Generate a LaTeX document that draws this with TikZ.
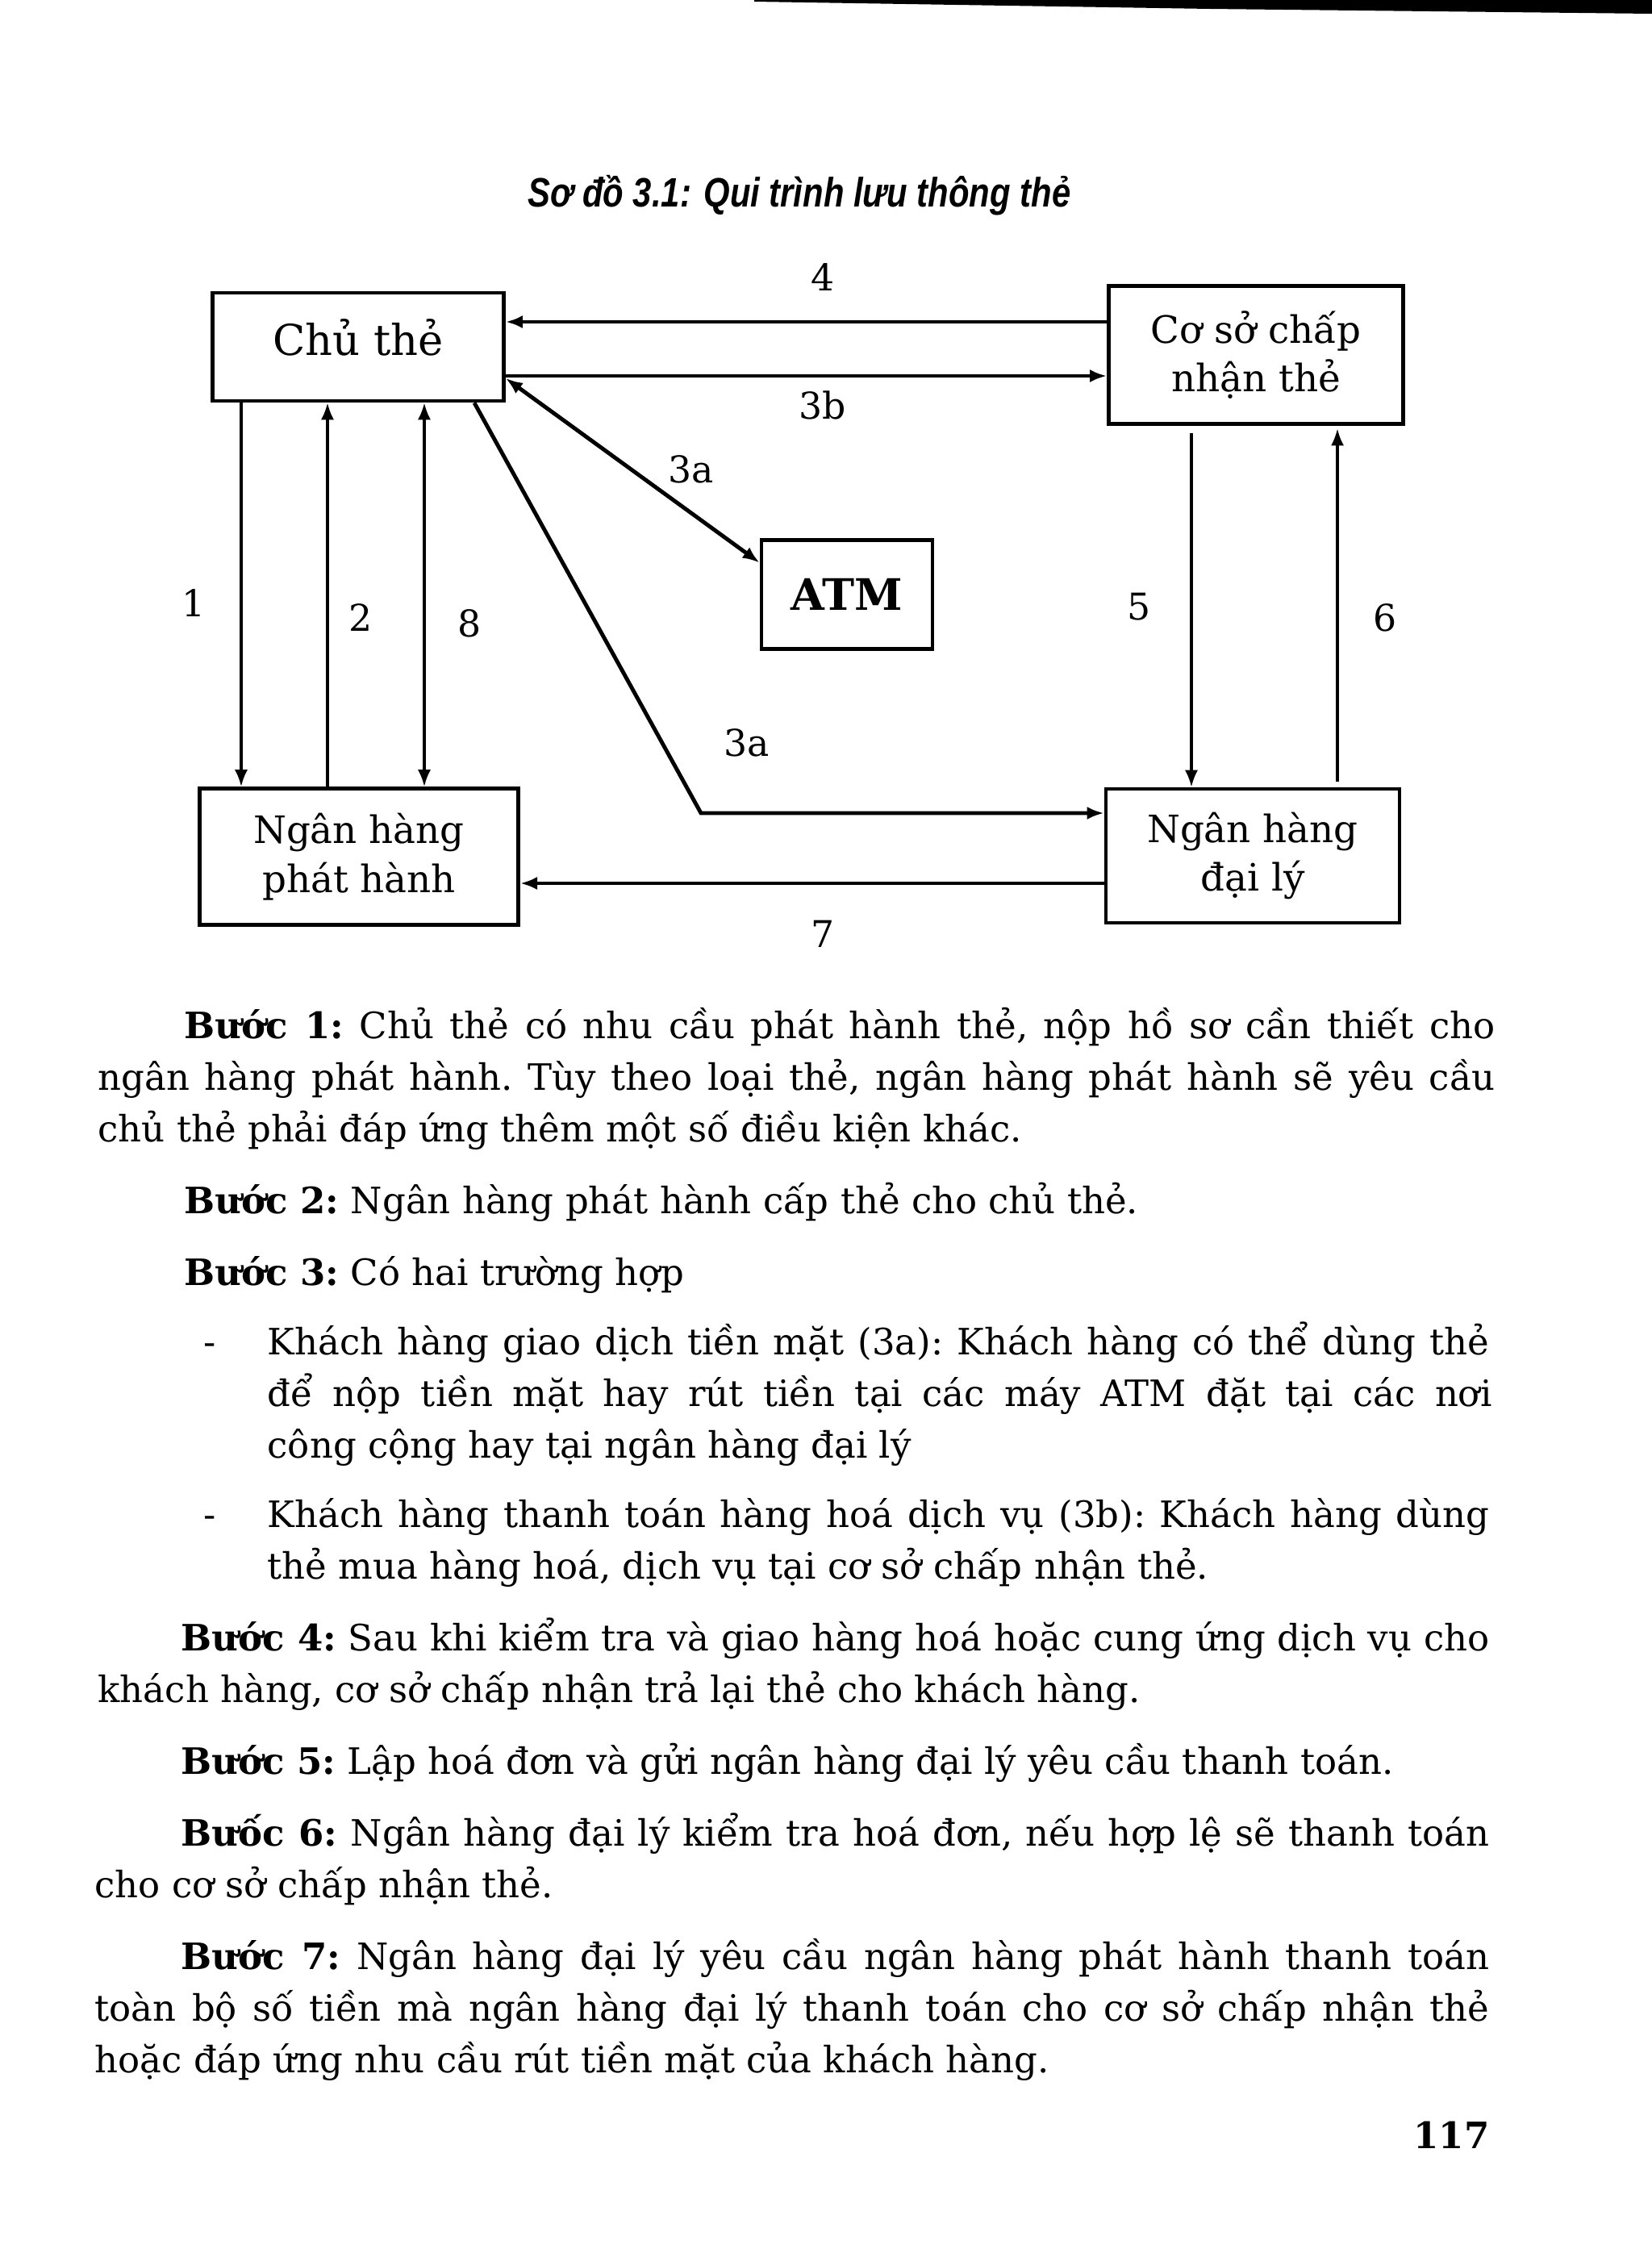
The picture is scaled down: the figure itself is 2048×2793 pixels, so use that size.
\documentclass[tikz,border=0pt]{standalone}
\usepackage{fontspec}
\setmainfont{DejaVu Serif}
\newfontfamily\titlefont[FakeStretch=0.82]{Liberation Sans}
\usetikzlibrary{arrows.meta}
\newcommand\bodysize{\fontsize{12.8}{18}\selectfont\frenchspacing}
\newcommand\boxsize{\fontsize{13.3}{17.3}\selectfont}
\tikzset{
  >={Latex[length=6pt,width=4.6pt]},
  box/.style={draw,line width=1.3pt,inner sep=0pt,align=center,font=\boxsize},
  flow/.style={line width=1.4pt},
  vflow/.style={line width=0.9pt},
  lbl/.style={inner sep=0pt,font=\fontsize{13}{15}\selectfont},
  txt/.style={anchor=base west,inner sep=0pt,font=\bodysize},
}
\begin{document}
\begin{tikzpicture}[x=0.01cm,y=-0.01cm]
    \useasboundingbox (0,0) rectangle (2048,2793);
    \fill[white] (0,0) rectangle (2048,2793);
    % dark edge of the scanned page
    \fill[black] (935,0) -- (2048,0) -- (2048,17) -- (1500,11) -- (935,2) -- cycle;

    \node[anchor=base,inner sep=0pt,font=\titlefont\bfseries\itshape\fontsize{14.5}{16}\selectfont]
      (title) at (991,256) {Sơ đồ 3.1: Qui trình lưu thông thẻ};

    % the five parties
    \node[box,minimum width=3.61cm,minimum height=1.34cm,text height=0.5cm,text depth=0.3cm,
          font=\fontsize{15}{18}\selectfont] (chu) at (444,430) {Chủ thẻ};
    \node[box,minimum width=3.65cm,minimum height=1.71cm] (coso) at (1557,440) {Cơ sở chấp\\nhận thẻ};
    \node[box,minimum width=2.12cm,minimum height=1.35cm,font=\fontsize{15.3}{18}\selectfont\bfseries] (atm) at (1050,737) {ATM};
    \node[box,minimum width=3.95cm,minimum height=1.69cm] (nhph) at (445,1062) {Ngân hàng\\phát hành};
    \node[box,minimum width=3.64cm,minimum height=1.66cm] (nhdl) at (1553,1061) {Ngân hàng\\đại lý};

    % rows and columns the connectors run along
    \coordinate (r4) at (0,399);
    \coordinate (r3b) at (0,466);
    \coordinate (r7) at (0,1095);
    \coordinate (c1) at (299,0);
    \coordinate (c2) at (406,0);
    \coordinate (c8) at (526,0);
    \coordinate (c3a) at (588,0);
    \coordinate (bend) at (869,1008);
    \coordinate (c5) at (1477,0);
    \coordinate (c6) at (1658,0);

    \draw[flow,->] (coso.west |- r4) -- (chu.east |- r4);
    \draw[flow,->] (chu.east |- r3b) -- (coso.west |- r3b);
    \draw[flow,<->] (chu.-12.5) -- (atm.160);
    \draw[flow,->] (chu.south -| c3a) -- (bend) -- (bend -| nhdl.west);
    \draw[flow,->] (nhdl.west |- r7) -- (nhph.east |- r7);
    \draw[vflow,->] (chu.south -| c1) -- (nhph.north -| c1);
    \draw[vflow,->] (nhph.north -| c2) -- (chu.south -| c2);
    \draw[vflow,<->] (chu.south -| c8) -- (nhph.north -| c8);
    \draw[vflow,->,shorten <=2.5pt] (coso.south -| c5) -- (nhdl.north -| c5);
    \draw[vflow,->,shorten <=2pt,shorten >=1pt] (nhdl.north -| c6) -- (coso.south -| c6);

    \foreach \n/\xa/\yb [count=\i] in {4/1020/344, 3b/1020/502, 3a/857/582, 3a/926/921,
                                       1/240/748, 2/447/766, 8/582/773, 5/1412/752,
                                       6/1717/766, 7/1020/1158}{
      \node[lbl] (lab\i) at (\xa,\yb) {\n};}

    % the steps below the chart; full lines are stretched to the measure
    \foreach \xa/\yb/\w/\t in {
        228/1287/16.24/{\textbf{Bước 1:} Chủ thẻ có nhu cầu phát hành thẻ, nộp hồ sơ cần thiết cho},
        121/1351/17.31/{ngân hàng phát hành. Tùy theo loại thẻ, ngân hàng phát hành sẽ yêu cầu},
        331/1679/15.14/{Khách hàng giao dịch tiền mặt (3a): Khách hàng có thể dùng thẻ},
        331/1743/15.17/{để nộp tiền mặt hay rút tiền tại các máy ATM đặt tại các nơi},
        331/1893/15.14/{Khách hàng thanh toán hàng hoá dịch vụ (3b): Khách hàng dùng},
        224/2046/16.21/{\textbf{Bước 4:} Sau khi kiểm tra và giao hàng hoá hoặc cung ứng dịch vụ cho},
        224/2288/16.21/{\textbf{Bưốc 6:} Ngân hàng đại lý kiểm tra hoá đơn, nếu hợp lệ sẽ thanh toán},
        224/2441/16.21/{\textbf{Bước 7:} Ngân hàng đại lý yêu cầu ngân hàng phát hành thanh toán},
        117/2505/17.28/{toàn bộ số tiền mà ngân hàng đại lý thanh toán cho cơ sở chấp nhận thẻ}}{
      \node[txt] (j\yb) at (\xa,\yb) {\makebox[\w cm][s]{\t}};}
    \foreach \xa/\yb/\t in {
        121/1415/{chủ thẻ phải đáp ứng thêm một số điều kiện khác.},
        228/1504/{\textbf{Bước 2:} Ngân hàng phát hành cấp thẻ cho chủ thẻ.},
        228/1593/{\textbf{Bước 3:} Có hai trường hợp},
        331/1807/{công cộng hay tại ngân hàng đại lý},
        331/1957/{thẻ mua hàng hoá, dịch vụ tại cơ sở chấp nhận thẻ.},
        121/2110/{khách hàng, cơ sở chấp nhận trả lại thẻ cho khách hàng.},
        224/2199/{\textbf{Bước 5:} Lập hoá đơn và gửi ngân hàng đại lý yêu cầu thanh toán.},
        117/2352/{cho cơ sở chấp nhận thẻ.},
        117/2569/{hoặc đáp ứng nhu cầu rút tiền mặt của khách hàng.}}{
      \node[txt] (n\yb) at (\xa,\yb) {\t};}
    \node[txt] (dash1) at (252,1679) {-};
    \node[txt] (dash2) at (252,1893) {-};

    \node[anchor=base east,inner sep=0pt,font=\bodysize\bfseries] (pageno) at (1847,2663) {117};
  \end{tikzpicture}
\end{document}
